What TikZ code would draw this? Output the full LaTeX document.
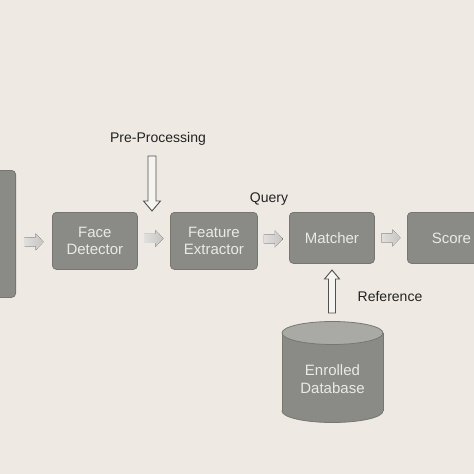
\documentclass[tikz,border=0pt]{standalone}
\usepackage{fontspec}
\setmainfont{Liberation Sans}
\usetikzlibrary{calc}
\definecolor{bg}{HTML}{EEEAE3}
\definecolor{boxfill}{HTML}{8A8A87}
\definecolor{boxline}{HTML}{77776F}
\definecolor{boxtext}{HTML}{E9E9E6}
\definecolor{arrfill}{HTML}{C6C5C2}
\definecolor{dbtop}{HTML}{A9A9A6}
\definecolor{hollowline}{HTML}{505050}
\definecolor{hollowfill}{HTML}{F6F4F0}
\definecolor{labeltext}{HTML}{222222}
\begin{document}
\begin{tikzpicture}[x=1pt,y=-1pt,
  box/.style={draw=boxline, line width=0.8pt, fill=boxfill, rounded corners=4pt,
    text=boxtext, align=center, inner sep=0pt, anchor=north west,
    font=\fontsize{15}{17}\selectfont},
  lbl/.style={text=labeltext, inner sep=0pt, font=\fontsize{14}{16}\selectfont},
  hollow/.style={draw=hollowline, fill=hollowfill, line width=0.9pt, line join=miter},
  blockarr/.pic={\fill[left color=arrfill!55!white, right color=arrfill]
     (-9.5,-4.5) -- (1.5,-4.5) -- (1.5,-8.5) -- (9.5,0) -- (1.5,8.5) -- (1.5,4.5) -- (-9.5,4.5) -- cycle;}
]
\fill[bg] (0,0) rectangle (474,474);
\useasboundingbox (0,0) rectangle (474,474);

% boxes
\node[box, anchor=north east, minimum width=40, minimum height=127] (sensor) at (16,170) {};
\node[box, minimum width=85, minimum height=57] (face) at (52,212) {Face\\Detector};
\node[box, minimum width=87, minimum height=57] (feat) at (170,212) {Feature\\Extractor};
\node[box, minimum width=85, minimum height=51] (match) at (289,212) {Matcher};
\node[box, minimum width=88, minimum height=51] (score) at (407,212) {Score};

% block arrows between boxes
\path ($(sensor.east)!.5!(face.west)+(0,4.5)$) coordinate (m1);
\path ($(face.east)!.5!(feat.west)+(0,-2.5)$) coordinate (m2);
\path ($(feat.east)!.5!(match.west)+(0,-0.5)$) coordinate (m3);
\path ($(match.east)!.5!(score.west)+(0,0)$) coordinate (m4);
\pic at (m1) {blockarr};
\pic at (m2) {blockarr};
\pic at (m3) {blockarr};
\pic at (m4) {blockarr};

% labels
\node[lbl] (pre) at (158,139) {Pre-Processing};
\node[lbl] (query) at (269,199) {Query};
\node[lbl] (ref) at (390,296) {Reference};

% hollow arrow: pre-processing (down)
\coordinate (ppA) at (152,156);
\draw[hollow] ($(ppA)+(-4,0)$) -- ($(ppA)+(4,0)$) -- ($(ppA)+(4,45)$) -- ($(ppA)+(8.5,45)$)
  -- ($(ppA)+(0,55)$) -- ($(ppA)+(-8.5,45)$) -- ($(ppA)+(-4,45)$) -- cycle;

% database cylinder
\fill[boxfill, draw=boxline, line width=0.8pt] (332.5,411) ellipse[x radius=50.5, y radius=11.5];
\fill[boxfill] (282,333) rectangle (383,411);
\draw[boxline, line width=0.8pt] (282,333) -- (282,411) (383,333) -- (383,411);
\fill[dbtop, draw=boxline, line width=0.8pt] (332.5,333) ellipse[x radius=50.5, y radius=11.5];
\node[text=boxtext, align=center, inner sep=0pt, font=\fontsize{15}{18}\selectfont] (db) at (332.5,379) {Enrolled\\Database};

% hollow arrow: reference (up)
\coordinate (rfA) at (332,313);
\draw[hollow] ($(rfA)+(-3.5,0)$) -- ($(rfA)+(3.5,0)$) -- ($(rfA)+(3.5,-34)$) -- ($(rfA)+(7.5,-34)$)
  -- ($(rfA)+(0,-43)$) -- ($(rfA)+(-7.5,-34)$) -- ($(rfA)+(-3.5,-34)$) -- cycle;
\end{tikzpicture}
\end{document}
